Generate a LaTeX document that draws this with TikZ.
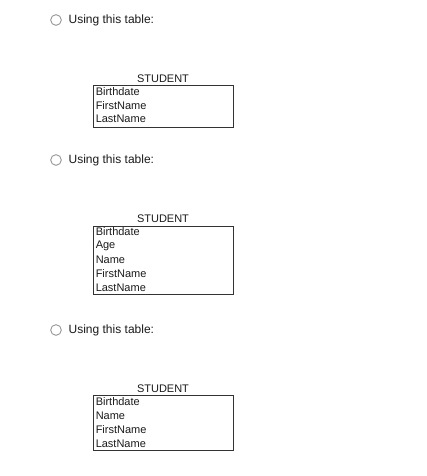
\documentclass[tikz,border=0pt]{standalone}
\usepackage{fontspec}
\setmainfont{Liberation Sans}
\usetikzlibrary{positioning}
\definecolor{txtgray}{HTML}{1A1A1A}
\definecolor{boxgray}{HTML}{333333}
\definecolor{radiogray}{HTML}{8A8A8A}
\tikzset{
  radio/.style={circle,draw=radiogray,line width=0.6pt,minimum size=8pt,inner sep=0pt},
  option/.style={anchor=west,inner sep=0pt,text=txtgray,font=\fontsize{9}{10}\selectfont},
  tabtitle/.style={inner sep=0pt,text=txtgray,font=\fontsize{8.25}{9}\selectfont},
  tabrow/.style={anchor=west,inner sep=0pt,text=txtgray,font=\fontsize{8.25}{9}\selectfont},
  tabbox/.style={draw=boxgray,line width=0.6pt}
}
\begin{document}
\begin{tikzpicture}[x=0.75pt,y=-0.75pt]
        \useasboundingbox (0,0) rectangle (427,476);
        % first option
        \node[radio] (radio1) at (56,20) {};
        \node[option,right=5pt of radio1] (opt1) {Using this table:};
        \node[tabtitle] (title1) at (163,79) {STUDENT};
        \draw[tabbox] (93,85) rectangle (233,127);
        \foreach \r [count=\i] in {Birthdate,FirstName,LastName}
        \node[tabrow] (rowa\i) at (95.5,{91.7+13.7*(\i-1)}) {\r};
        % second option
        \node[radio] (radio2) at (56,160) {};
        \node[option,right=5pt of radio2] (opt2) {Using this table:};
        \node[tabtitle] (title2) at (163,219) {STUDENT};
        \draw[tabbox] (93,226) rectangle (233,294);
        \foreach \r [count=\i] in {Birthdate,Age,Name,FirstName,LastName}
        \node[tabrow] (rowb\i) at (95.5,{231.7+14*(\i-1)}) {\r};
        % third option
        \node[radio] (radio3) at (56,330) {};
        \node[option,right=5pt of radio3] (opt3) {Using this table:};
        \node[tabtitle] (title3) at (163,389) {STUDENT};
        \draw[tabbox] (93,395) rectangle (233,450);
        \foreach \r [count=\i] in {Birthdate,Name,FirstName,LastName}
        \node[tabrow] (rowc\i) at (95.5,{401.7+14*(\i-1)}) {\r};
\end{tikzpicture}
\end{document}
